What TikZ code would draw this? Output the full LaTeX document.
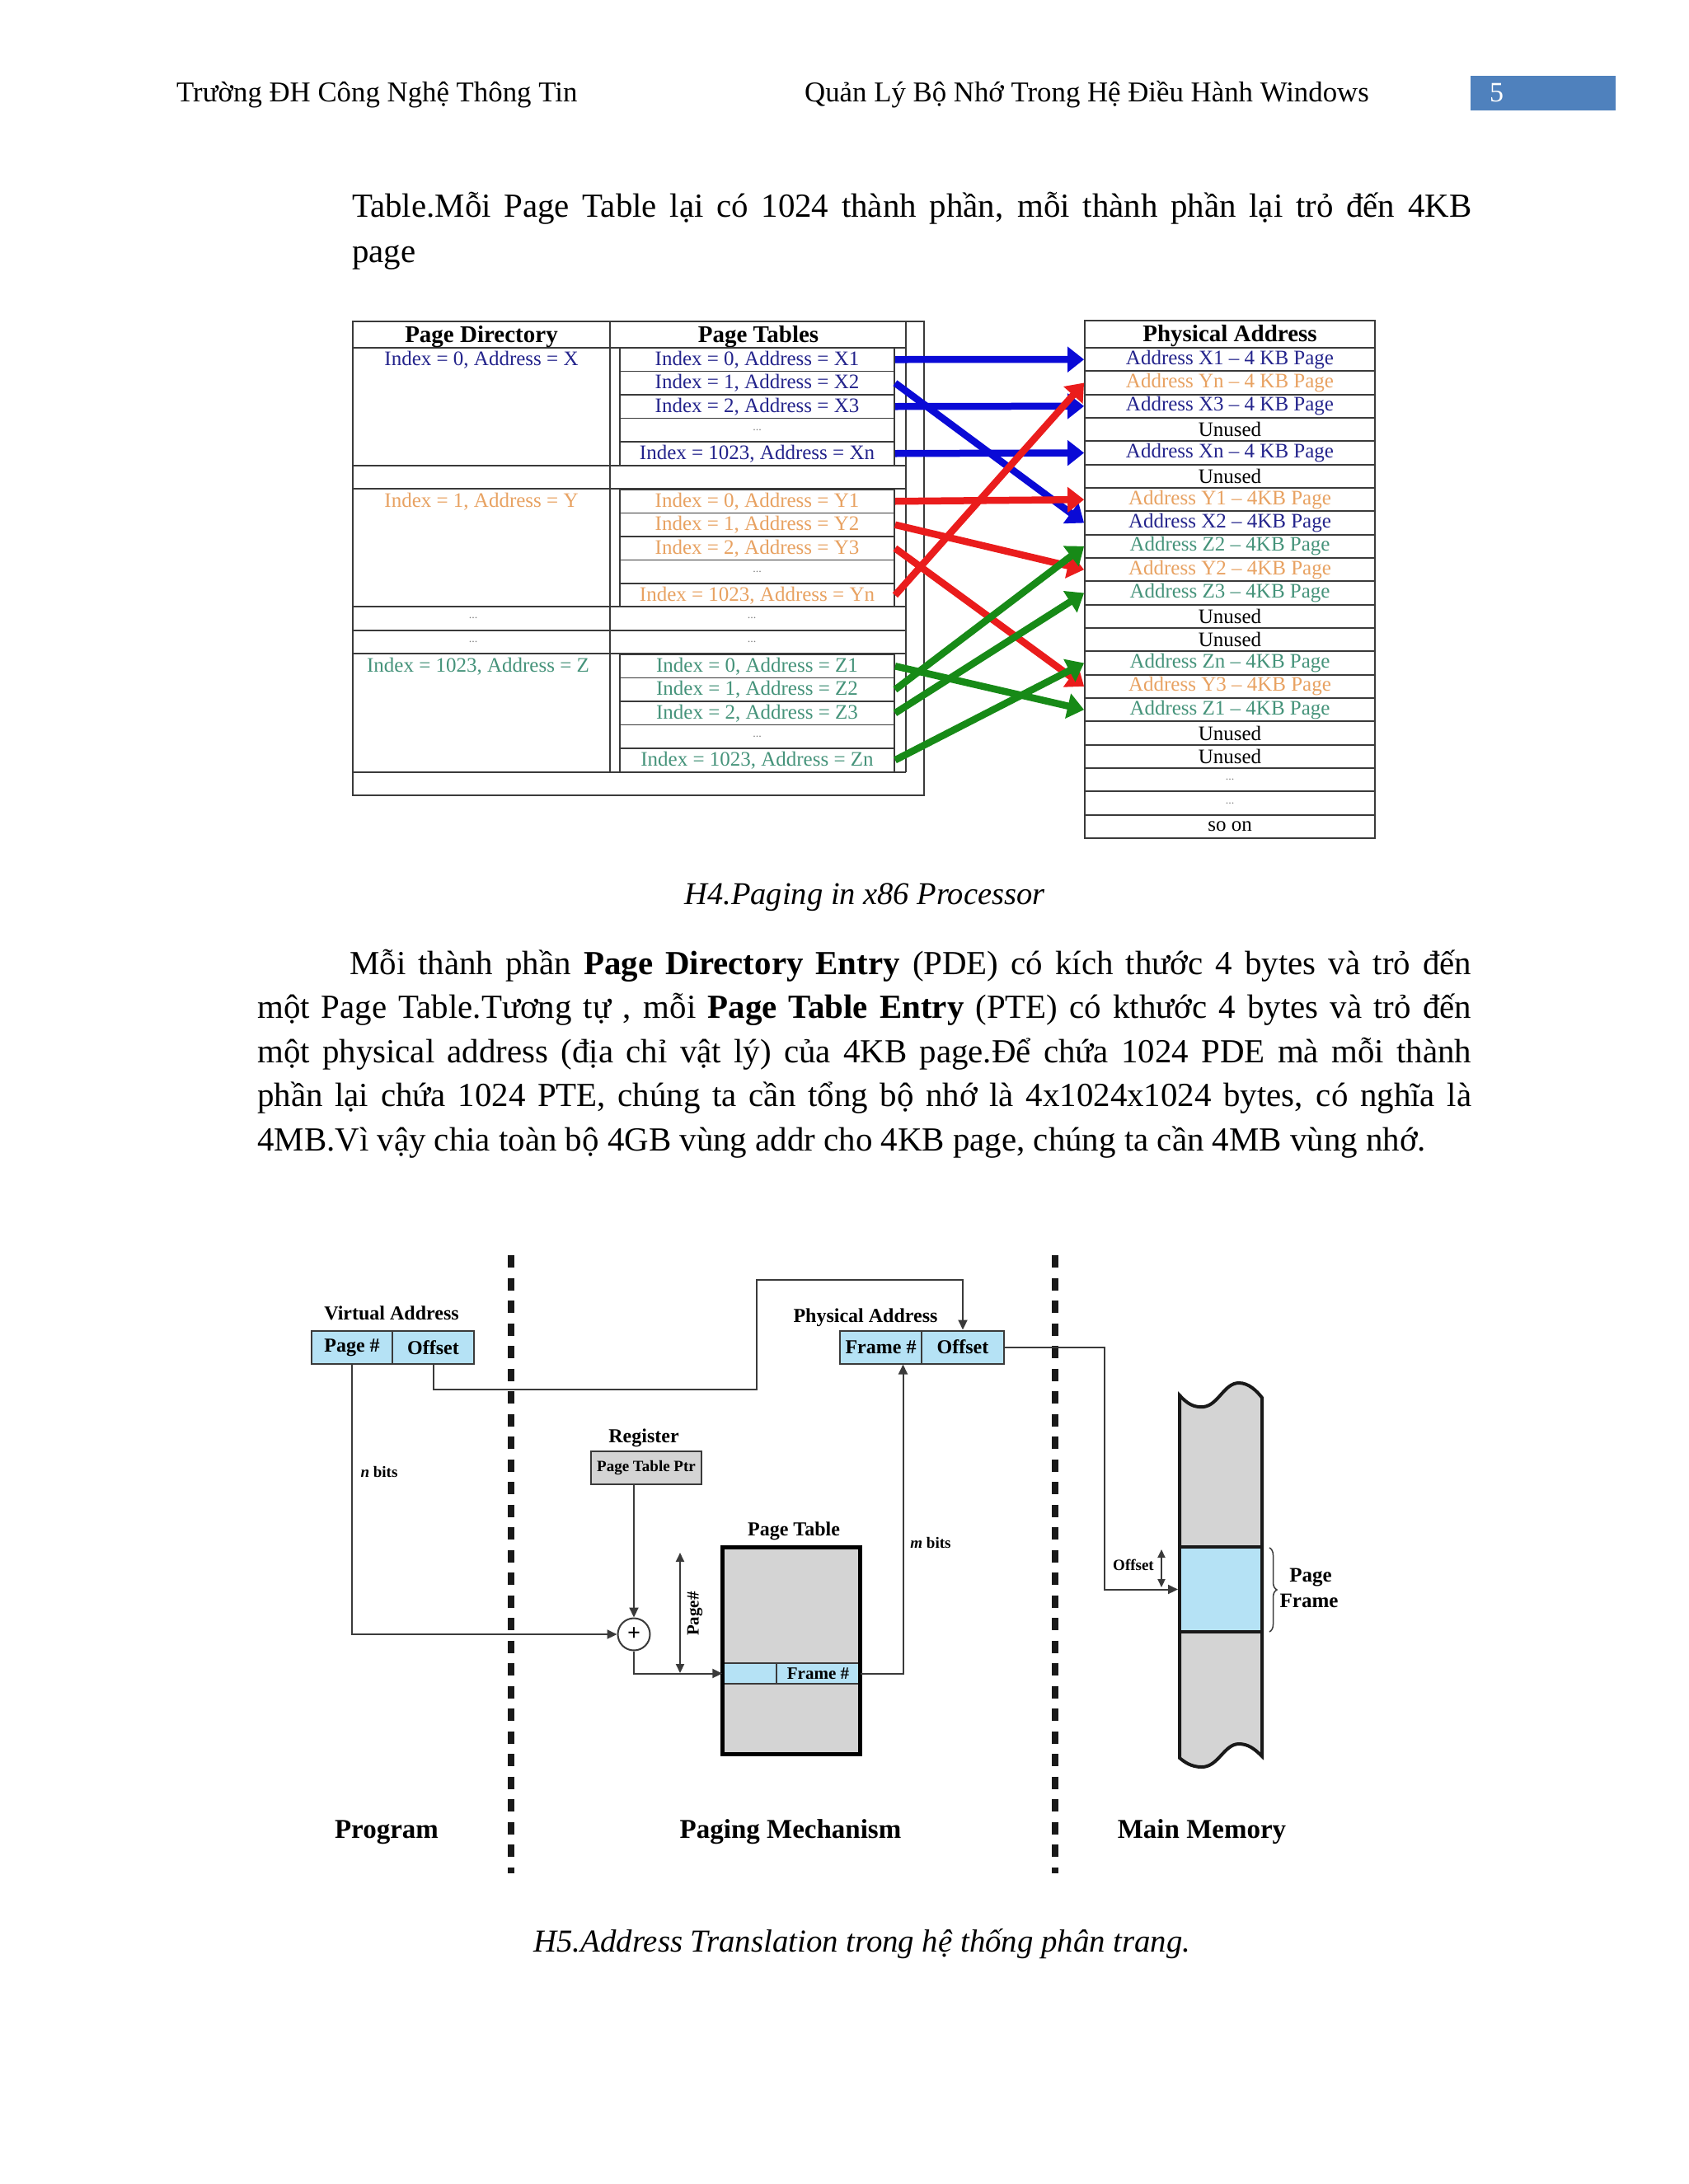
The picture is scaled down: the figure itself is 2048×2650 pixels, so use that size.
\documentclass[tikz,border=0pt]{standalone}
\usepackage{fontspec}
\setmainfont{Liberation Serif}
\usetikzlibrary{arrows.meta,decorations.pathreplacing,calc}
\definecolor{cx}{HTML}{24248C}
\definecolor{cy}{HTML}{E8A262}
\definecolor{cz}{HTML}{45937A}
\definecolor{ablue}{HTML}{0A0AD6}
\definecolor{ared}{HTML}{EA1C1C}
\definecolor{agreen}{HTML}{178A17}
\definecolor{lblue}{HTML}{B5E2F5}
\definecolor{lgray}{HTML}{D4D4D4}
\definecolor{hdrblue}{HTML}{4F81BD}
\definecolor{tline}{HTML}{3A3A3A}
\newcommand{\fs}[1]{\fontsize{#1}{#1}\selectfont}
\begin{document}
\begin{tikzpicture}[x=1pt,y=-1pt,
  body/.style={anchor=base west,inner sep=0pt,font=\fs{40.9}},
  ptrow/.style={draw=tline,line width=1.8pt,minimum width=333pt,minimum height=28.5pt,inner sep=0pt,font=\fs{25}},
  phrow/.style={draw=tline,line width=1.8pt,minimum width=352pt,minimum height=28.333pt,inner sep=0pt,font=\fs{25}},
  arr/.style={line width=8.5pt,-{Triangle[length=20pt,width=30pt]}},
  conn/.style={draw=tline,line width=2pt},
  tip/.style={-{Triangle[length=12pt,width=11pt]}},
  lbl/.style={inner sep=0pt,font=\fs{24}\bfseries},
  abox/.style={draw=tline,line width=2pt,fill=lblue,minimum height=40pt,inner sep=0pt,font=\fs{24}\bfseries},
  big/.style={inner sep=0pt,font=\fs{33}\bfseries}]
\useasboundingbox[fill=white] (0,0) rectangle (2048,2650);

% ---------- header ----------
\node[anchor=base west,inner sep=0pt,font=\fs{34.8}] (h1) at (214,123) {Trường ĐH Công Nghệ Thông Tin};
\node[anchor=base west,inner sep=0pt,font=\fs{34.8}] (h2) at (976,123) {Quản Lý Bộ Nhớ Trong Hệ Điều Hành Windows};
\node[fill=hdrblue,minimum width=176pt,minimum height=42pt,inner sep=0pt,anchor=north west] (pgbox) at (1784,92) {};
\node[anchor=base west,font=\fs{34},text=white,inner sep=0pt] (pgnum) at (1807,123) {5};

% ---------- paragraph 1 ----------
\node[body] (t1) at (427,263) {\makebox[1358pt][s]{Table.Mỗi Page Table lại có 1024 thành phần, mỗi thành phần lại trỏ đến 4KB}};
\node[body] (t2) at (427,318) {page};

% ---------- H4 table ----------
\draw[tline,line width=2pt] (428,390) rectangle (1121,965);
\foreach \yy in {422,565,593,736,765,793,937}
  \draw[tline,line width=2pt] (428,\yy) -- (1099,\yy);
\draw[tline,line width=2pt] (740,390) -- (740,937);
\draw[tline,line width=2pt] (1099,390) -- (1099,937);
\node[inner sep=0pt,font=\fs{29}\bfseries] (pdh) at (584,409) {Page Directory};
\node[inner sep=0pt,font=\fs{29}\bfseries] (pth) at (920,409) {Page Tables};
\node[inner sep=0pt,font=\fs{25},text=cx] (pd0) at (584,437) {Index = 0, Address = X};
\node[inner sep=0pt,font=\fs{25},text=cy] (pd1) at (584,609) {Index = 1, Address = Y};
\node[inner sep=0pt,font=\fs{25},text=cz] (pd2) at (580,809) {Index = 1023, Address = Z};
\foreach \yy in {750,779} {
  \node[inner sep=0pt,font=\fs{14},text=gray] at (574,\yy) {...};
  \node[inner sep=0pt,font=\fs{14},text=gray] at (912,\yy) {...};
}
\foreach \b/\tp/\c/\Lt in {x/422/cx/X,y/594/cy/Y,z/794/cz/Z} {
  \node[ptrow,text=\c] (\b1) at (918.5,{\tp+0.5*28.5}) {Index = 0, Address = \Lt1};
  \node[ptrow,text=\c] (\b2) at (918.5,{\tp+1.5*28.5}) {Index = 1, Address = \Lt2};
  \node[ptrow,text=\c] (\b3) at (918.5,{\tp+2.5*28.5}) {Index = 2, Address = \Lt3};
  \node[ptrow,text=gray] (\b4) at (918.5,{\tp+3.5*28.5}) {\fs{14}...};
  \node[ptrow,text=\c] (\b5) at (918.5,{\tp+4.5*28.5}) {Index = 1023, Address = \Lt n};
}
\node[draw=tline,line width=1.8pt,minimum width=352pt,minimum height=33pt,inner sep=0pt,font=\fs{29}\bfseries,text depth=3pt] (phh) at (1492,405.5) {Physical Address};
\foreach \i/\t/\c in {
1/{Address X1 – 4 KB Page}/cx,
2/{Address Yn – 4 KB Page}/cy,
3/{Address X3 – 4 KB Page}/cx,
4/Unused/black,
5/{Address Xn – 4 KB Page}/cx,
6/Unused/black,
7/{Address Y1 – 4KB Page}/cy,
8/{Address X2 – 4KB Page}/cx,
9/{Address Z2 – 4KB Page}/cz,
10/{Address Y2 – 4KB Page}/cy,
11/{Address Z3 – 4KB Page}/cz,
12/Unused/black,
13/Unused/black,
14/{Address Zn – 4KB Page}/cz,
15/{Address Y3 – 4KB Page}/cy,
16/{Address Z1 – 4KB Page}/cz,
17/Unused/black,
18/Unused/black,
19/{\fs{14}...}/gray,
20/{\fs{14}...}/gray,
21/{so on}/black}
  \node[phrow,text=\c] (ph\i) at (1492,{422+(\i-0.5)*28.333}) {\t};

\draw[arr,ablue] (x1.east) -- (ph1.west);
\draw[arr,ablue] (x2.east) -- (ph8.west);
\draw[arr,ablue] (x3.east) -- (ph3.west);
\draw[arr,ablue] (x5.east) -- (ph5.west);
\draw[arr,ared] (y1.east) -- (ph7.west);
\draw[arr,ared] (y2.east) -- (ph10.west);
\draw[arr,ared] (y3.east) -- (ph15.west);
\draw[arr,ared] (y5.east) -- (ph2.west);
\draw[arr,agreen] (z1.east) -- (ph16.west);
\draw[arr,agreen] (z2.east) -- (ph9.west);
\draw[arr,agreen] (z3.east) -- (ph11.west);
\draw[arr,agreen] (z5.east) -- (ph14.west);

\node[anchor=base,inner sep=0pt,font=\fs{38.5}\itshape] (cap4) at (1049,1097) {H4.Paging in x86 Processor};

% ---------- paragraph 2 ----------
\node[body] (p1) at (424,1182) {\makebox[1361pt][s]{Mỗi thành phần \textbf{Page Directory Entry} (PDE) có kích thước 4 bytes và trỏ đến}};
\node[body] (p2) at (312,1235.5) {\makebox[1473pt][s]{một Page Table.Tương tự , mỗi \textbf{Page Table Entry} (PTE) có kthước 4 bytes và trỏ đến}};
\node[body] (p3) at (312,1289) {\makebox[1473pt][s]{một physical address (địa chỉ vật lý) của 4KB page.Để chứa 1024 PDE mà mỗi thành}};
\node[body] (p4) at (312,1342.5) {\makebox[1473pt][s]{phần lại chứa 1024 PTE, chúng ta cần tổng bộ nhớ là 4x1024x1024 bytes, có nghĩa là}};
\node[body] (p5) at (312,1396) {4MB.Vì vậy chia toàn bộ 4GB vùng addr cho 4KB page, chúng ta cần 4MB vùng nhớ.};

% ---------- H5 figure ----------
\draw[black!90,line width=8pt,dash pattern=on 15pt off 12.5pt] (620,1523) -- (620,2273);
\draw[black!90,line width=8pt,dash pattern=on 15pt off 12.5pt] (1280,1523) -- (1280,2273);

\node[lbl] (valbl) at (475,1593) {Virtual Address};
\node[abox,minimum width=98pt] (vpage) at (427,1635) {Page \#};
\node[abox,minimum width=99pt] (voff) at (525.5,1635) {Offset};
\node[lbl] (palbl) at (1050,1599) {Physical Address};
\node[abox,minimum width=99pt] (pframe) at (1068.5,1634.5) {Frame \#};
\node[abox,minimum width=100pt] (poff) at (1168,1634.5) {Offset};

\node[lbl] (reglbl) at (781,1745) {Register};
\node[draw=tline,line width=2pt,fill=lgray,minimum width=134pt,minimum height=40pt,inner sep=0pt,font=\fs{19}\bfseries] (reg) at (784,1781) {Page Table Ptr};
\node[draw=tline,line width=2pt,circle,minimum size=39pt,inner sep=0pt,font=\fs{28}\bfseries] (plus) at (769,1983) {+};

\node[lbl] (ptlbl) at (963,1858) {Page Table};
\node[fill=lgray,minimum width=166pt,minimum height=250pt,inner sep=0pt] (ptbox) at (960,2003) {};
\node[draw=tline,line width=1.5pt,fill=lblue,minimum width=65pt,minimum height=25pt,inner sep=0pt] (ptl) at (909.5,2030.5) {};
\node[draw=tline,line width=1.5pt,fill=lblue,minimum width=101pt,minimum height=25pt,inner sep=0pt,font=\fs{21}\bfseries] (ptf) at (992.5,2030.5) {Frame \#};
\draw[black,line width=5pt] (ptbox.north west) rectangle (ptbox.south east);

\node[inner sep=0pt,font=\fs{19}\bfseries] (nb) at (460,1786) {\textit{n} bits};
\node[inner sep=0pt,font=\fs{19}\bfseries] (mb) at (1129,1872) {\textit{m} bits};
\node[rotate=90,inner sep=0pt,font=\fs{21}\bfseries] (pgn) at (843,1958) {Page\#};

\coordinate (c1) at (918,1686);
\coordinate (c2) at (918,1553);
\coordinate (c3) at (1340,1928.5);
\draw[conn,tip] (vpage.south) |- (plus.west);
\draw[conn,tip] (voff.south) |- (c1) -- (c2) -| (poff.north);
\draw[conn,tip] (reg.south -| plus.north) -- (plus.north);
\draw[conn,tip] (plus.south) |- (ptl.west);
\draw[conn,tip] (ptf.east) -| ([xshift=27pt]pframe.south);
\draw[conn,{Triangle[length=11pt,width=10pt]}-{Triangle[length=11pt,width=10pt]}] (825,1884) -- (825,2030);

% memory
\draw[black!90,line width=4pt,fill=lgray]
  (1431,1693) .. controls (1440,1703) and (1448,1708) .. (1460,1707)
  .. controls (1478,1705) and (1485,1678) .. (1503,1678)
  .. controls (1515,1678) and (1525,1688) .. (1531,1696)
  -- (1531,2131)
  .. controls (1522,2122) and (1514,2116) .. (1503,2116)
  .. controls (1485,2116) and (1478,2144) .. (1458,2144)
  .. controls (1445,2144) and (1437,2138) .. (1431,2133) -- cycle;
\node[draw=black!90,line width=4pt,fill=lblue,minimum width=100pt,minimum height=103pt,inner sep=0pt] (memframe) at (1481,1928.5) {};
\draw[conn,tip] (poff.east) -| (c3) -- (memframe.west);
\draw[conn,{Triangle[length=10pt,width=9pt]}-{Triangle[length=10pt,width=9pt]}] (1409,1880) -- (1409,1926);
\node[inner sep=0pt,font=\fs{19}\bfseries] (offl) at (1375,1899) {Offset};
\draw[tline,line width=1.5pt,decorate,decoration={brace,amplitude=9pt}] (1540,1878) -- (1540,1980);
\node[inner sep=0pt,font=\fs{25}\bfseries] (pfl1) at (1590,1914) {Page};
\node[inner sep=0pt,font=\fs{25}\bfseries] (pfl2) at (1588,1942) {Frame};

\node[big] (prog) at (469,2223) {Program};
\node[big] (pmech) at (959,2223) {Paging Mechanism};
\node[big] (mmem) at (1458,2223) {Main Memory};

\node[anchor=base,inner sep=0pt,font=\fs{38.8}\itshape] (cap5) at (1046,2368) {H5.Address Translation trong hệ thống phân trang.};
\end{tikzpicture}
\end{document}
